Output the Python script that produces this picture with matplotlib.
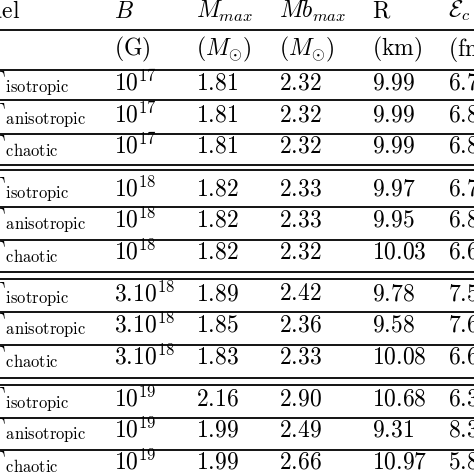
import matplotlib
matplotlib.use("Agg")
import matplotlib.pyplot as plt

plt.rcParams['mathtext.fontset'] = 'cm'
plt.rcParams['font.family'] = 'serif'
plt.rcParams['font.serif'] = ['DejaVu Serif']

headers = [r"$\mathrm{Model}$", r"$B$", r"$M_{max}$", r"$Mb_{max}$", r"$\mathrm{R}$", r"$\mathcal{E}_c$"]
units = ["", r"$\mathrm{(G)}$", r"$(M_{\odot})$", r"$(M_{\odot})$", r"$\mathrm{(km)}$", r"$\mathrm{(fm}^{-4}\mathrm{)}$"]
models = ["isotropic", "anisotropic", "chaotic"] * 4
B = [r"$10^{17}$"] * 3 + [r"$10^{18}$"] * 3 + [r"$3.10^{18}$"] * 3 + [r"$10^{19}$"] * 3
Mmax = ["1.81", "1.81", "1.81", "1.82", "1.82", "1.82", "1.89", "1.85", "1.83", "2.16", "1.99", "1.99"]
Mbmax = ["2.32", "2.32", "2.32", "2.33", "2.33", "2.32", "2.42", "2.36", "2.33", "2.90", "2.49", "2.66"]
R = ["9.99", "9.99", "9.99", "9.97", "9.95", "10.03", "9.78", "9.58", "10.08", "10.68", "9.31", "10.97"]
Ec = ["6.7", "6.8", "6.8", "6.7", "6.8", "6.6", "7.5", "7.6", "6.6", "6.3", "8.3", "5.8"]

fig = plt.figure(figsize=(4.74, 4.74), dpi=100)
ax = fig.add_axes([0, 0, 1, 1])
ax.set_xlim(0, 474)
ax.set_ylim(474, 0)
ax.axis('off')

colx = [-40, 114, 196, 279, 372, 448]
fs = 17
row_y = [83, 115, 146, 189, 220, 252, 294, 325, 357, 399, 430, 462]

def m(s):
    return "$" + s + "$"

ax.text(20, 11, headers[0], fontsize=fs, ha='right', va='center')
for j in range(1, 6):
    ax.text(colx[j], 11, headers[j], fontsize=fs, ha='left', va='center')
    ax.text(colx[j], 49, units[j], fontsize=fs, ha='left', va='center')

for i, y in enumerate(row_y):
    ax.text(-10, y, r"$\Gamma_{\rm %s}$" % models[i], fontsize=fs, ha='left', va='center')
    ax.text(colx[1], y, B[i], fontsize=fs, ha='left', va='center')
    ax.text(colx[2], y, m(Mmax[i]), fontsize=fs, ha='left', va='center')
    ax.text(colx[3], y, m(Mbmax[i]), fontsize=fs, ha='left', va='center')
    ax.text(colx[4], y, m(R[i]), fontsize=fs, ha='left', va='center')
    ax.text(colx[5], y, m(Ec[i]), fontsize=fs, ha='left', va='center')

lines = [30, 70, 100, 134, 165, 170, 207, 240, 272, 279, 312, 345, 378, 385, 418, 450]
for ly in lines:
    ax.axhline(ly, color='black', lw=1.3)

fig.savefig("out.png", dpi=100)
